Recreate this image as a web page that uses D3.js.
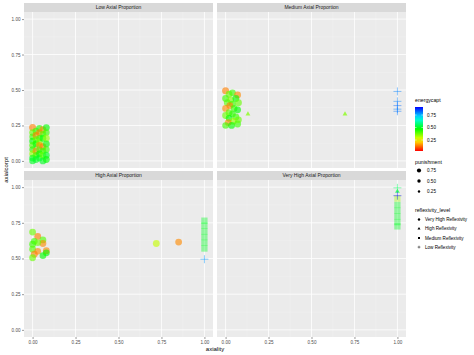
<!DOCTYPE html>
<html><head><meta charset="utf-8">
<script src="https://cdn.jsdelivr.net/npm/d3@7"></script>
<style>body{margin:0;background:#fff} svg{display:block} text{font-family:"Liberation Sans",Arial,sans-serif}</style>
</head><body><svg id="c" width="474" height="355"></svg>
<script>
const panelTitles = ["Low Axial Proportion","Medium Axial Proportion","High Axial Proportion","Very High Axial Proportion"];
const axisTicks = [0, 0.25, 0.5, 0.75, 1];
const minorTicks = [0.125, 0.375, 0.625, 0.875];
const reflexLevels = ["Very High Reflexivity","High Reflexivity","Medium Reflexivity","Low Reflexivity"];
const energyBreaks = [0.75, 0.5, 0.25];
const energyRange = [0.03, 0.91];
const punishBreaks = [0.75, 0.5, 0.25];
// [axiality, axialcorpt, energycapt, punishment, reflexivity index]
const lowPoints = [
 [0.00,0.235,0.14,0.95,0],[0.00,0.20,0.38,0.9,0],[0.00,0.17,0.42,0.85,0],[0.00,0.14,0.47,0.9,0],
 [0.00,0.11,0.40,0.9,0],[0.00,0.08,0.44,0.85,0],[0.00,0.05,0.34,0.9,0],[0.00,0.02,0.50,0.9,0],
 [0.00,0.00,0.50,0.85,0],[0.02,0.21,0.42,0.9,0],[0.02,0.18,0.14,0.9,0],[0.02,0.15,0.38,0.85,0],
 [0.02,0.12,0.47,0.9,0],[0.02,0.07,0.15,0.9,0],[0.02,0.04,0.42,0.85,0],[0.02,0.01,0.50,0.9,0],
 [0.04,0.23,0.44,0.9,0],[0.04,0.20,0.14,0.9,0],[0.04,0.16,0.42,0.85,0],[0.04,0.13,0.36,0.9,0],
 [0.04,0.11,0.16,0.9,0],[0.04,0.08,0.42,0.85,0],[0.04,0.05,0.47,0.9,0],[0.04,0.02,0.50,0.9,0],
 [0.06,0.22,0.15,0.9,0],[0.06,0.19,0.40,0.85,0],[0.06,0.16,0.47,0.9,0],[0.06,0.10,0.14,0.9,0],
 [0.06,0.07,0.42,0.85,0],[0.06,0.04,0.38,0.9,0],[0.06,0.00,0.50,0.9,0],[0.08,0.235,0.47,0.9,0],
 [0.08,0.20,0.42,0.85,0],[0.08,0.16,0.34,0.9,0],[0.08,0.12,0.47,0.9,0],[0.08,0.08,0.42,0.85,0],
 [0.08,0.04,0.50,0.9,0],[0.08,0.01,0.47,0.9,0]
];
const mediumPoints = [
 [0.00,0.495,0.14,0.95,0],[0.02,0.47,0.38,0.9,0],[0.04,0.48,0.42,0.85,0],[0.07,0.465,0.15,0.9,0],
 [0.00,0.44,0.42,0.9,0],[0.03,0.43,0.36,0.85,0],[0.06,0.44,0.47,0.9,0],[0.01,0.41,0.40,0.9,0],
 [0.04,0.40,0.42,0.85,0],[0.075,0.41,0.38,0.9,0],[0.025,0.39,0.14,0.9,0],[0.00,0.37,0.15,0.9,0],
 [0.05,0.37,0.42,0.85,0],[0.07,0.36,0.47,0.9,0],[0.02,0.34,0.40,0.9,0],[0.04,0.33,0.44,0.85,0],
 [0.00,0.32,0.38,0.9,0],[0.06,0.31,0.42,0.9,0],[0.02,0.30,0.47,0.85,0],[0.045,0.28,0.34,0.9,0],
 [0.015,0.27,0.15,0.9,0],[0.00,0.25,0.42,0.85,0],[0.035,0.25,0.47,0.9,0],[0.07,0.26,0.42,0.9,0],
 [0.075,0.29,0.38,0.85,0],
 [0.13,0.33,0.36,0.5,1],[0.695,0.33,0.36,0.5,1],
 [1,0.49,0.80,0.9,3],[1,0.42,0.80,0.9,3],[1,0.39,0.82,0.9,3],[1,0.365,0.80,0.9,3],[1,0.35,0.81,0.9,3]
];
const highPoints = [
 [0.00,0.685,0.38,0.9,0],[0.03,0.655,0.14,0.9,0],[0.01,0.62,0.42,0.85,0],[0.06,0.63,0.40,0.9,0],
 [0.06,0.605,0.15,0.9,0],[0.03,0.61,0.38,0.85,0],[0.00,0.60,0.42,0.9,0],[0.00,0.565,0.40,0.9,0],
 [0.03,0.55,0.15,0.85,0],[0.01,0.53,0.14,0.9,0],[0.00,0.505,0.38,0.9,0],[0.06,0.52,0.47,0.85,0],
 [0.08,0.555,0.15,0.9,0],[0.08,0.54,0.47,0.9,0],
 [0.72,0.605,0.30,0.9,0],[0.85,0.615,0.15,0.9,0],
 [1,0.765,0.50,0.9,2],[1,0.73,0.50,0.9,2],[1,0.69,0.50,0.9,2],[1,0.65,0.50,0.9,2],[1,0.61,0.50,0.9,2],[1,0.57,0.50,0.9,2],
 [1,0.495,0.78,0.9,3]
];
const veryHighPoints = [
 [1,0.875,0.50,0.9,2],[1,0.835,0.50,0.9,2],[1,0.795,0.50,0.9,2],[1,0.755,0.50,0.9,2],[1,0.725,0.50,0.9,2],
 [1,0.92,0.33,0.9,2],[1,0.97,0.52,0.9,1],[1,0.995,0.55,0.9,3],[1,0.94,0.90,0.9,3]
];
const panelData = [lowPoints, mediumPoints, highPoints, veryHighPoints];

const svg = d3.select("#c");
svg.append("rect").attr("width",474).attr("height",355).attr("fill","#fff");

const cols = [[24,213],[217,406]];
const rows = [[3,12,168],[171,180,337]]; // strip top, panel top, panel bottom
const hue = d3.scaleLinear().domain(energyRange).range([0,240]).clamp(true);
const color = e => d3.hsl(hue(e),1,0.5).formatHex();
const rScale = d3.scaleSqrt().domain([0,1]).range([0,3.6]);
const fmt = d3.format(".2f");

panelData.forEach((pts,i)=>{
  const c = cols[i%2], r = rows[Math.floor(i/2)];
  const x = d3.scaleLinear().domain([-0.05,1.05]).range(c);
  const y = d3.scaleLinear().domain([-0.05,1.05]).range([r[2],r[1]]);
  const g = svg.append("g");
  g.append("rect").attr("x",c[0]).attr("y",r[1]).attr("width",c[1]-c[0]).attr("height",r[2]-r[1]).attr("fill","#EBEBEB");
  g.append("rect").attr("x",c[0]).attr("y",r[0]).attr("width",c[1]-c[0]).attr("height",r[1]-r[0]).attr("fill","#D9D9D9");
  g.append("text").attr("x",(c[0]+c[1])/2).attr("y",(r[0]+r[1])/2+1.8).attr("text-anchor","middle")
    .attr("font-size",5).attr("fill","#1A1A1A").text(panelTitles[i]);
  minorTicks.forEach(t=>{
    g.append("line").attr("x1",x(t)).attr("x2",x(t)).attr("y1",r[1]).attr("y2",r[2]).attr("stroke","#F5F5F5").attr("stroke-width",0.4);
    g.append("line").attr("y1",y(t)).attr("y2",y(t)).attr("x1",c[0]).attr("x2",c[1]).attr("stroke","#F5F5F5").attr("stroke-width",0.4);
  });
  axisTicks.forEach(t=>{
    g.append("line").attr("x1",x(t)).attr("x2",x(t)).attr("y1",r[1]).attr("y2",r[2]).attr("stroke","#fff").attr("stroke-width",0.8);
    g.append("line").attr("y1",y(t)).attr("y2",y(t)).attr("x1",c[0]).attr("x2",c[1]).attr("stroke","#fff").attr("stroke-width",0.8);
  });
  if (i%2===0) {
    const ax = g.append("g").attr("transform",`translate(${c[0]},0)`)
      .call(d3.axisLeft(y).tickValues(axisTicks).tickFormat(fmt).tickSize(2).tickPadding(1.5));
    ax.select(".domain").remove();
    ax.selectAll("line").attr("stroke","#333").attr("stroke-width",0.5);
    ax.selectAll("text").attr("font-size",4.6).attr("fill","#4D4D4D").attr("font-family","Liberation Sans, Arial, sans-serif");
  }
  if (i>=2) {
    const ax = g.append("g").attr("transform",`translate(0,${r[2]})`)
      .call(d3.axisBottom(x).tickValues(axisTicks).tickFormat(fmt).tickSize(2).tickPadding(1.5));
    ax.select(".domain").remove();
    ax.selectAll("line").attr("stroke","#333").attr("stroke-width",0.5);
    ax.selectAll("text").attr("font-size",4.6).attr("fill","#4D4D4D").attr("font-family","Liberation Sans, Arial, sans-serif");
  }
  const clip = "clip"+i;
  svg.append("clipPath").attr("id",clip).append("rect").attr("x",c[0]).attr("y",r[1]).attr("width",c[1]-c[0]).attr("height",r[2]-r[1]);
  const pg = g.append("g").attr("clip-path",`url(#${clip})`);
  pts.forEach(p=>{
    const px = x(p[0]), py = y(p[1]), col = color(p[2]);
    if (p[4]===0) {
      pg.append("circle").attr("cx",px).attr("cy",py).attr("r",rScale(p[3])).attr("fill",col).attr("fill-opacity",0.62);
    } else if (p[4]===1) {
      pg.append("path").attr("d",d3.symbol(d3.symbolTriangle, 10)()).attr("transform",`translate(${px},${py})`).attr("fill",col).attr("fill-opacity",0.7);
    } else if (p[4]===2) {
      pg.append("path").attr("d",d3.symbol(d3.symbolSquare, 40)()).attr("transform",`translate(${px},${py})`).attr("fill",col).attr("fill-opacity",0.38);
    } else {
      const h = 4;
      pg.append("path").attr("d",`M${px-h},${py}H${px+h}M${px},${py-h}V${py+h}`).attr("stroke",col).attr("stroke-opacity",0.5).attr("stroke-width",0.9).attr("fill","none");
    }
  });
});

svg.append("text").attr("x",215).attr("y",351).attr("text-anchor","middle").attr("font-size",6).attr("fill","#000").text("axiality");
svg.append("text").attr("transform","translate(8,170) rotate(-90)").attr("text-anchor","middle").attr("font-size",6).attr("fill","#000").text("axialcorpt");

const lx = 415;
svg.append("text").attr("x",lx).attr("y",102).attr("font-size",5.2).attr("fill","#000").text("energycapt");
const barY = d3.scaleLinear().domain(energyRange).range([151,107]);
const grad = svg.append("defs").append("linearGradient").attr("id","eg").attr("x1",0).attr("y1",1).attr("x2",0).attr("y2",0);
d3.range(0,1.0001,0.1).forEach(t=>{
  grad.append("stop").attr("offset",t).attr("stop-color",color(energyRange[0]+t*(energyRange[1]-energyRange[0])));
});
svg.append("rect").attr("x",lx).attr("y",107).attr("width",8).attr("height",44).attr("fill","url(#eg)");
energyBreaks.forEach(b=>{
  svg.append("line").attr("x1",lx).attr("x2",lx+1.6).attr("y1",barY(b)).attr("y2",barY(b)).attr("stroke","#fff").attr("stroke-width",0.5);
  svg.append("line").attr("x1",lx+6.4).attr("x2",lx+8).attr("y1",barY(b)).attr("y2",barY(b)).attr("stroke","#fff").attr("stroke-width",0.5);
  svg.append("text").attr("x",lx+12).attr("y",barY(b)+1.6).attr("font-size",4.6).attr("fill","#000").text(fmt(b));
});

svg.append("text").attr("x",lx).attr("y",164).attr("font-size",5.2).attr("fill","#000").text("punishment");
const legR = d3.scaleSqrt().domain([0,1]).range([0,2.4]);
punishBreaks.forEach((b,k)=>{
  const yy = 170.5 + k*10.5;
  svg.append("circle").attr("cx",lx+4).attr("cy",yy).attr("r",legR(b)).attr("fill","#000");
  svg.append("text").attr("x",lx+12).attr("y",yy+1.6).attr("font-size",4.6).attr("fill","#000").text(fmt(b));
});

svg.append("text").attr("x",lx).attr("y",212).attr("font-size",5.2).attr("fill","#000").text("reflexivity_level");
reflexLevels.forEach((lab,k)=>{
  const yy = 219.5 + k*9.2, xx = lx+4;
  if (k===0) svg.append("circle").attr("cx",xx).attr("cy",yy).attr("r",1.2).attr("fill","#000");
  else if (k===1) svg.append("path").attr("d",d3.symbol(d3.symbolTriangle,4)()).attr("transform",`translate(${xx},${yy})`).attr("fill","#000");
  else if (k===2) svg.append("path").attr("d",d3.symbol(d3.symbolSquare,4)()).attr("transform",`translate(${xx},${yy})`).attr("fill","#000");
  else svg.append("path").attr("d",`M${xx-1.4},${yy}H${xx+1.4}M${xx},${yy-1.4}V${yy+1.4}`).attr("stroke","#000").attr("stroke-width",0.5);
  svg.append("text").attr("x",lx+10).attr("y",yy+1.6).attr("font-size",4.6).attr("fill","#000").text(lab);
});
</script></body></html>
